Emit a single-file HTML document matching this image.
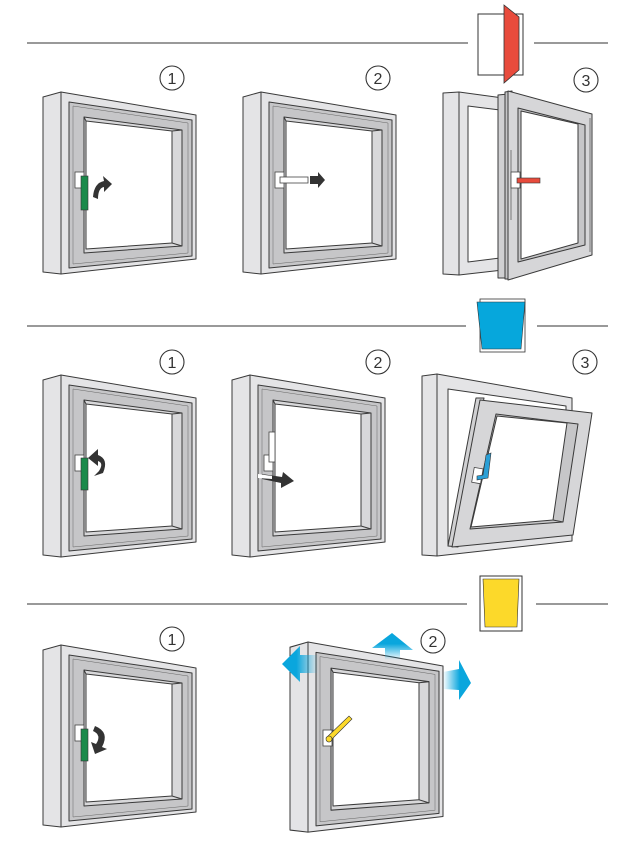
<!DOCTYPE html>
<html><head><meta charset="utf-8"><style>
html,body{margin:0;padding:0;background:#fff;}
svg{display:block;}
text{font-family:"Liberation Sans",sans-serif;}
</style></head><body>
<svg width="636" height="854" viewBox="0 0 636 854" xmlns="http://www.w3.org/2000/svg">
<defs>
<g id="win" stroke="#3a3a3a" stroke-width="1" stroke-linejoin="round">
  <polygon points="43,97 61,92 61,274 43,272" fill="#e4e4e6"/>
  <line x1="61" y1="185" x2="61" y2="196" stroke="#e4e4e6" stroke-width="2"/>
  <polygon points="61,92 196,115 196,259 61,274" fill="#e4e4e6"/>
  <polygon points="69,102 192,120 192,256 69,268" fill="#c6c6c8"/>
  <polygon points="73,106 188,123 188,253 73,264" fill="none" stroke-width="0.5" stroke="#666"/>
  <polygon points="84,117 182,130 182,246 84,253" fill="#d8d8da"/>
  <polygon points="86,121 172,131 172,243 86,249" fill="#fff"/>
  <line x1="84" y1="117" x2="86" y2="121"/>
  <line x1="182" y1="130" x2="172" y2="131"/>
  <line x1="182" y1="246" x2="172" y2="243"/>
</g>
<g id="num"><circle r="12" fill="#fff" stroke="#333" stroke-width="1.1"/></g>
<linearGradient id="bl" x1="0" x2="1"><stop offset="0" stop-color="#0aa6dd" stop-opacity="0"/><stop offset="0.6" stop-color="#0aa6dd"/></linearGradient>
<linearGradient id="blr" x1="1" x2="0"><stop offset="0" stop-color="#0aa6dd" stop-opacity="0"/><stop offset="0.6" stop-color="#0aa6dd"/></linearGradient>
<linearGradient id="blu" x1="0" y1="1" x2="0" y2="0"><stop offset="0" stop-color="#0aa6dd" stop-opacity="0"/><stop offset="0.6" stop-color="#0aa6dd"/></linearGradient>
</defs>

<g stroke="#333" stroke-width="1.1">
<line x1="27" y1="43" x2="468" y2="43"/><line x1="534" y1="43" x2="608" y2="43"/>
<line x1="27" y1="326" x2="466" y2="326"/><line x1="537" y1="326" x2="608" y2="326"/>
<line x1="27" y1="604" x2="467" y2="604"/><line x1="536" y1="604" x2="608" y2="604"/>
</g>

<rect x="478" y="14" width="45" height="61" fill="#fff" stroke="#333" stroke-width="1"/>
<polygon points="504,5 519,17 519,70 504,83" fill="#e84b3c" stroke="#333" stroke-width="0.8"/>
<rect x="480" y="299" width="45" height="53" fill="#fff" stroke="#333" stroke-width="0.8"/>
<polygon points="477,302 525,302 521,349 482,349" fill="#06a7dc" stroke="#333" stroke-width="0.6"/>
<rect x="480" y="576" width="42" height="55" fill="#fff" stroke="#333" stroke-width="1"/>
<polygon points="483,579 519,579 517,627 485,627" fill="#fcd92a" stroke="#333" stroke-width="0.6"/>

<g font-size="16" text-anchor="middle" fill="#333">
<use href="#num" x="172" y="78"/><text x="172" y="84">1</text>
<use href="#num" x="378" y="78"/><text x="378" y="84">2</text>
<use href="#num" x="586" y="80"/><text x="586" y="86">3</text>
<use href="#num" x="172" y="362"/><text x="172" y="368">1</text>
<use href="#num" x="378" y="362"/><text x="378" y="368">2</text>
<use href="#num" x="585" y="362"/><text x="585" y="368">3</text>
<use href="#num" x="172" y="639"/><text x="172" y="645">1</text>
<use href="#num" x="433" y="641"/><text x="433" y="647">2</text>
</g>

<use href="#win"/>
<rect x="75" y="172" width="9" height="16" fill="#fff" stroke="#444" stroke-width="0.8"/>
<rect x="81" y="176" width="7" height="34" fill="#1b8a4b" stroke="#333" stroke-width="0.6"/>
<path d="M93,197 Q94,183 104,181 L103,176 L112,184 L104,192 L104,187 Q98,188 98,199 Z" fill="#333"/>

<use href="#win" x="200"/>
<rect x="275" y="172" width="9" height="16" fill="#fff" stroke="#444" stroke-width="0.8"/>
<rect x="280" y="177" width="28" height="6" fill="#fff" stroke="#444" stroke-width="0.8"/>
<path d="M310,176 L318,176 L318,172 L325,180 L318,188 L318,184 L310,184 Z" fill="#333"/>

<g stroke="#3a3a3a" stroke-width="1" stroke-linejoin="round">
<polygon points="443,93 459,92 459,275 443,274" fill="#e4e4e6"/>
<polygon points="459,92 503,98 503,270 459,275" fill="#e4e4e6"/>
<polygon points="468,106 500,110 500,258 468,262" fill="#fff"/>
<polygon points="498,95 508,94 508,278 498,278" fill="#d0d0d2"/>
<polygon points="505,92 512,91 512,279 505,279" fill="#c6c6c8"/>
<polygon points="508,91 592,114 592,255 508,280" fill="#d6d6d8"/>
<polygon points="518,108 585,125 585,245 518,262" fill="#c6c6c8"/>
<polygon points="521,111 578,124 578,243 521,259" fill="#fff"/>
<line x1="511" y1="150" x2="511" y2="220" stroke-width="0.6"/>
<line x1="590" y1="118" x2="590" y2="252" stroke-width="0.6"/>
</g>
<rect x="511" y="172" width="9" height="16" fill="#fff" stroke="#444" stroke-width="0.8"/>
<rect x="517" y="178" width="23" height="5" fill="#e84b3c" stroke="#333" stroke-width="0.6"/>

<use href="#win" y="283"/>
<rect x="75" y="455" width="9" height="16" fill="#fff" stroke="#444" stroke-width="0.8"/>
<rect x="81" y="458" width="7" height="32" fill="#1b8a4b" stroke="#333" stroke-width="0.6"/>
<path d="M103,473 Q109,459 98,455 L98,449 L88,458 L98,466 L98,461 Q104,463 99,471 L94,476 Z" fill="#333"/>

<use href="#win" x="189" y="283"/>
<rect x="264" y="455" width="9" height="16" fill="#fff" stroke="#444" stroke-width="0.8"/>
<rect x="269" y="432" width="6" height="30" fill="#fff" stroke="#444" stroke-width="0.8"/>
<path d="M262,474 L282,477 L283,472 L294,481 L281,488 L281,483 L262,479 Z" fill="#333"/>
<path d="M258,474 L272,476 L272,479 L258,478 Z" fill="#fff"/>

<g stroke="#3a3a3a" stroke-width="1" stroke-linejoin="round">
<polygon points="422,376 437,374 437,556 422,555" fill="#e4e4e6"/>
<polygon points="437,374 572,398 572,541 437,556" fill="#e4e4e6"/>
<polygon points="448,389 566,406 566,535 448,546" fill="#fff"/>
<polygon points="476,398 484,398 458,547 448,546" fill="#d0d0d2"/>
<polygon points="480,400 592,413 573,535 452,547" fill="#d6d6d8"/>
<polygon points="496,414 578,424 563,522 470,529" fill="#c6c6c8"/>
<polygon points="497,416 567,423 553,520 471,527" fill="#fff"/>
<line x1="563" y1="522" x2="553" y2="520"/>
</g>
<rect x="473" y="468" width="9" height="15" fill="#fff" stroke="#444" stroke-width="0.8" transform="rotate(10 477 475)"/>
<path d="M486,455 L491,453 L488,478 L477,480 L477,476 L483,475 Z" fill="#2a9fd6" stroke="#333" stroke-width="0.6"/>

<use href="#win" y="553"/>
<rect x="75" y="725" width="9" height="16" fill="#fff" stroke="#444" stroke-width="0.8"/>
<rect x="81" y="729" width="7" height="32" fill="#1b8a4b" stroke="#333" stroke-width="0.6"/>
<path d="M95,726 Q110,732 102,747 L107,749 L95,754 L91,742 L96,744 Q102,735 93,731 Z" fill="#333"/>

<g transform="translate(247,550) scale(1,1.045) translate(0,-4)"><use href="#win"/></g>
<rect x="323" y="730" width="9" height="16" fill="#fff" stroke="#444" stroke-width="0.8"/>
<path d="M326,738 L349,716 L352,719 L329,742 Z" fill="#fcd92a" stroke="#333" stroke-width="0.6"/>
<circle cx="329" cy="739" r="3" fill="#fcd92a" stroke="#333" stroke-width="0.6"/>
<path d="M318,655 L300,655 L300,646 L282,664 L300,682 L300,673 L318,673 Z" fill="url(#blr)"/>
<path d="M385,660 L385,648 L372,648 L392,633 L413,650 L400,650 L400,660 Z" fill="url(#blu)"/>
<path d="M443,672 L459,669 L459,660 L471,683 L459,700 L459,690 L443,689 Z" fill="url(#bl)"/>
</svg>
</body></html>
